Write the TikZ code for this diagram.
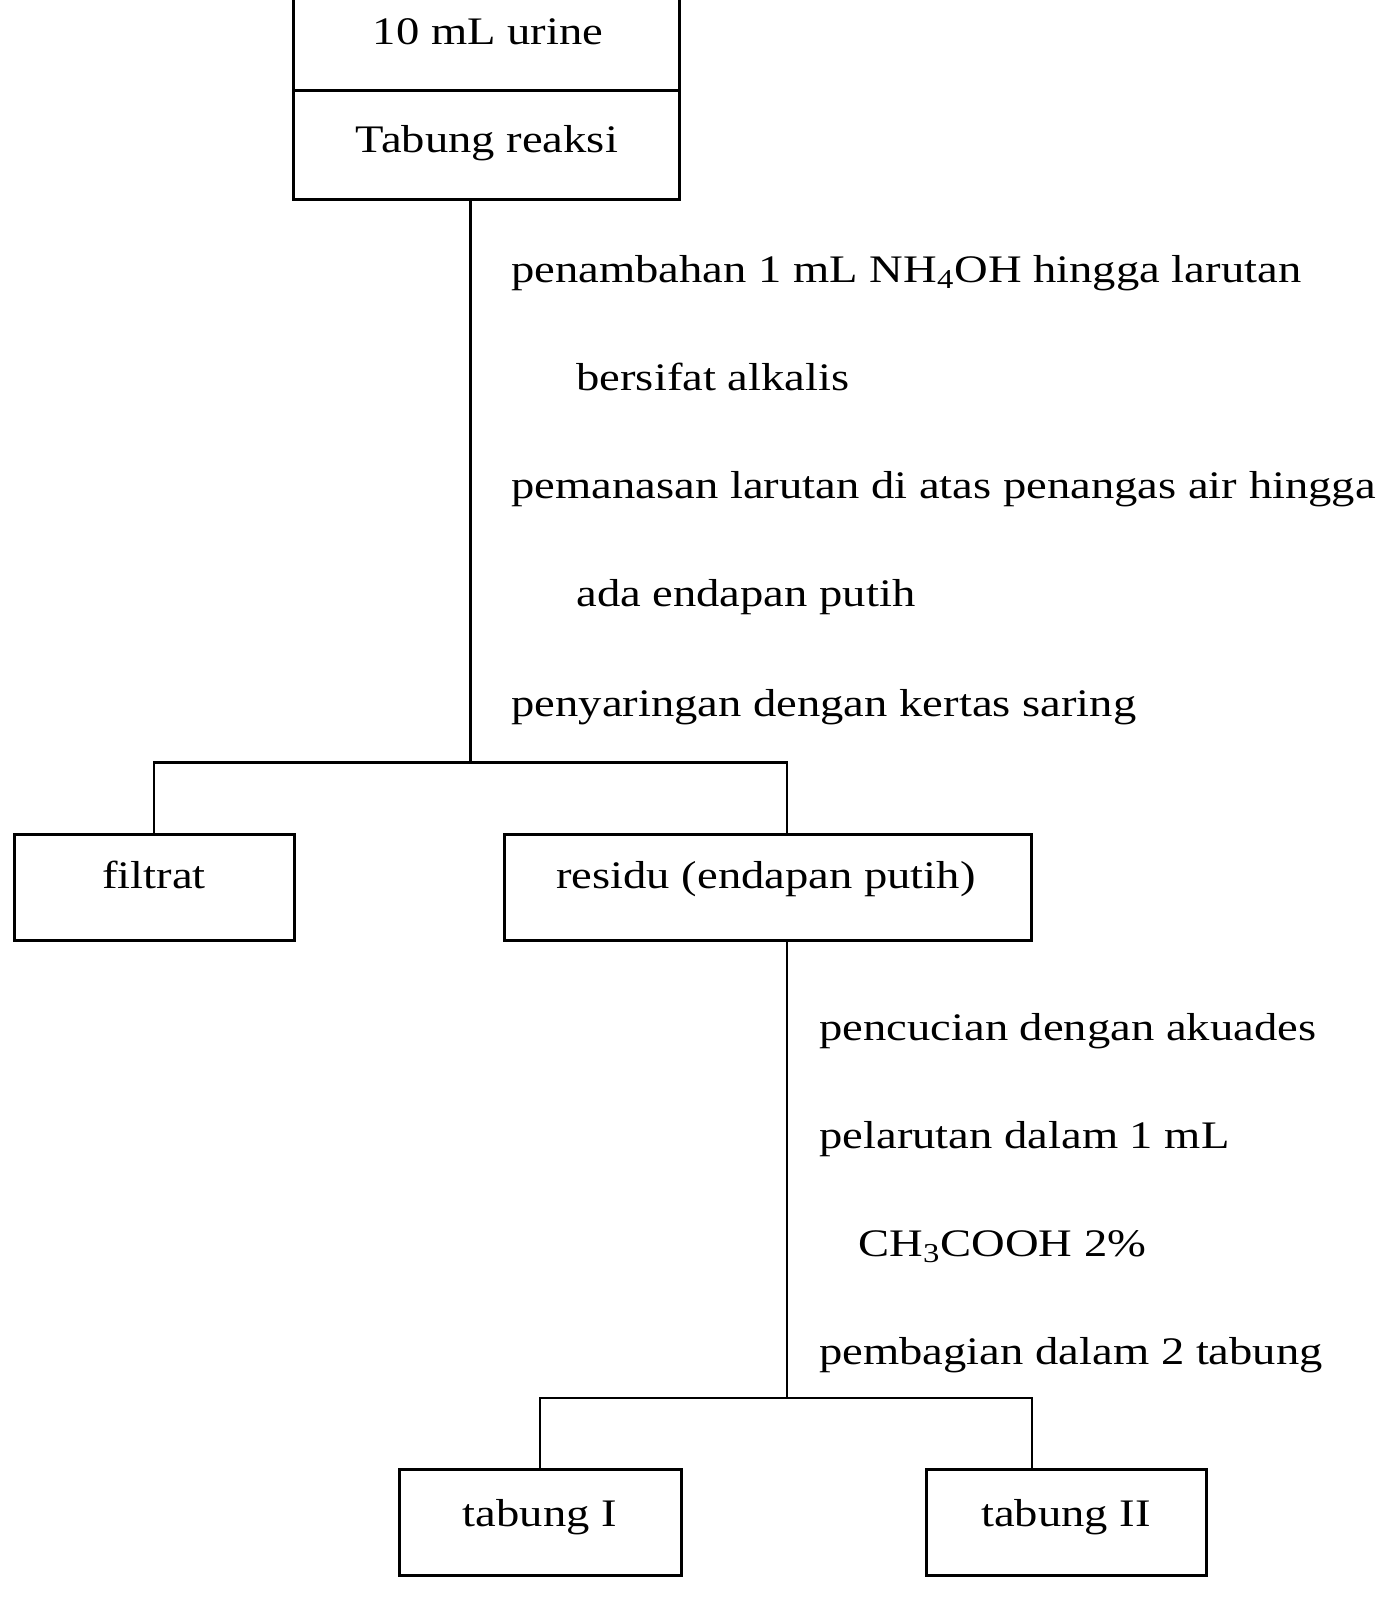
\documentclass[tikz,border=0pt]{standalone}
\usepackage{fontspec}
\setmainfont[FakeStretch=1.195]{Liberation Serif}
\begin{document}
\begin{tikzpicture}[x=0.5pt,y=-0.5pt,
  box/.style={draw=black, line width=1.5pt, rectangle, inner sep=0pt},
  conn/.style={draw=black, line width=1.1pt},
  lbl/.style={anchor=base, inner sep=0pt, font=\fontsize{19.5}{22}\selectfont},
  step text/.style={anchor=base west, inner sep=0pt, font=\fontsize{19.5}{22}\selectfont}]
\useasboundingbox (0,0) rectangle (1400,1600);
\begin{scope}
\clip (0,0) rectangle (1400,1600);
% boxes
\node[box, minimum width=193pt, minimum height=54pt] (urine) at (486,37) {};
\node[box, minimum width=193pt, minimum height=54pt] (reaksi) at (486,145) {};
\node[box, minimum width=140pt, minimum height=53pt] (filtrat) at (154,887) {};
\node[box, minimum width=263.5pt, minimum height=53pt] (residu) at (767.5,887) {};
\node[box, minimum width=141pt, minimum height=53pt] (tab1) at (540,1522) {};
\node[box, minimum width=140pt, minimum height=53pt] (tab2) at (1066,1522) {};
\end{scope}
% box texts
\node[lbl] (turine) at (488,45) {10 mL urine};
\node[lbl] (treaksi) at (487,152) {Tabung reaksi};
\node[lbl] (tfiltrat) at (154,888) {filtrat};
\node[lbl] (tresidu) at (766,888) {residu (endapan putih)};
\node[lbl] (ttab1) at (540,1526) {tabung I};
\node[lbl] (ttab2) at (1066,1526) {tabung II};
% junctions
\coordinate (j1) at (470.5,762.5);
\coordinate (j1r) at (787,762.5);
\coordinate (j2) at (787,1398);
\coordinate (j2r) at (1032,1398);
% connectors
\draw[conn] (reaksi.south -| j1) -- (j1);
\draw[conn] (filtrat.north) |- (j1r) -- (residu.north -| j1r);
\draw[conn] (residu.south -| j2) -- (j2);
\draw[conn] (tab1.north) |- (j2r) -- (tab2.north -| j2r);
% step texts, upper
\node[step text] (s1) at (511,282) {penambahan 1 mL NH\textsubscript{4}OH hingga larutan};
\node[step text] (s2) at (576,390) {bersifat alkalis};
\node[step text] (s3) at (511,498) {pemanasan larutan di atas penangas air hingga};
\node[step text] (s4) at (576,606) {ada endapan putih};
\node[step text] (s5) at (511,716) {penyaringan dengan kertas saring};
% step texts, lower
\node[step text] (s6) at (819,1040) {pencucian dengan akuades};
\node[step text] (s7) at (819,1148) {pelarutan dalam 1 mL};
\node[step text] (s8) at (858,1256) {CH\textsubscript{3}COOH 2\%};
\node[step text] (s9) at (819,1364) {pembagian dalam 2 tabung};
\end{tikzpicture}
\end{document}
